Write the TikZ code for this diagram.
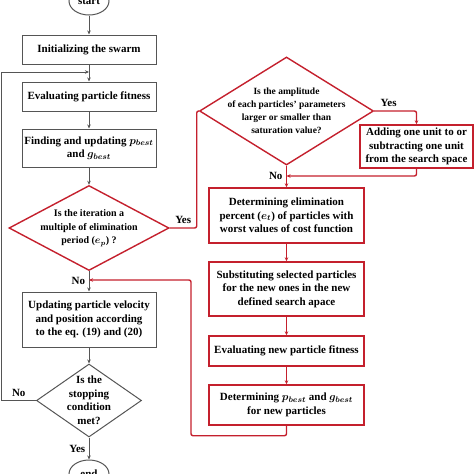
\documentclass[tikz,border=0pt]{standalone}
\usepackage{fontspec}
\setmainfont{Liberation Serif}
\usetikzlibrary{shapes.geometric,arrows.meta}
\definecolor{flowred}{RGB}{196,32,45}
\definecolor{flowgray}{RGB}{85,85,85}

\begin{document}
\begin{tikzpicture}[x=1pt,y=-1pt,
    every node/.style={font=\fontsize{11}{13.5}\selectfont\bfseries\boldmath},
    box/.style={draw=flowgray, line width=1pt, rectangle, align=center, minimum width=134pt, inner sep=2pt},
    redbox/.style={draw=flowred, line width=1.4pt, rectangle, align=center, minimum width=155pt, inner sep=2pt},
    term/.style={draw=flowgray, line width=1pt, ellipse, minimum width=40pt, minimum height=28pt, inner sep=0pt},
    dec/.style={diamond, draw=flowgray, line width=1pt, inner sep=0pt},
    reddec/.style={dec, draw=flowred, line width=1.4pt},
    dectext/.style={align=center},
    flow/.style={-{Stealth[length=4pt,width=3.5pt]}, draw=flowgray, line width=1pt},
    redline/.style={draw=flowred, line width=1.4pt, rounded corners=2pt},
    redflow/.style={redline, -{Stealth[length=4pt,width=3.5pt]}}]

    \useasboundingbox (0,0) rectangle (474,474);

    % 左边主流程
    \node[term] (start) at (89,1) {start};
    \node[box, minimum height=29pt] (init) at (89,49.5) {Initializing the swarm};
    \coordinate (merge) at (89,72);
    \node[box, minimum height=29pt] (eval) at (89,96.5) {Evaluating particle fitness};
    \node[box, minimum height=38pt] (find) at (89,148) {Finding and updating $p_{best}$\\and $g_{best}$};
    \node[reddec, minimum width=160pt, minimum height=85pt,
        label={[dectext, font=\fontsize{10}{13.5}\selectfont\bfseries\boldmath]center:Is the iteration a\\multiple of elimination\\period ($e_p$) ?}] (iter) at (89,228) {};
    \coordinate (nojoin) at (89,280);
    \node[box, minimum height=55pt] (upd) at (89,319.5) {Updating particle velocity\\and position according\\to the eq. (19) and (20)};
    \node[dec, minimum width=105pt, minimum height=73pt,
        label={[dectext]center:Is the\\stopping\\condition\\met?}] (stop) at (89,400.5) {};
    \node[term] (end) at (89,474) {end};

    % 右边淘汰流程
    \node[reddec, minimum width=174pt, minimum height=108pt,
        label={[dectext, font=\fontsize{9.5}{13}\selectfont\bfseries]center:Is the amplitude\\of each particles' parameters\\larger or smaller than\\saturation value?}] (ampl) at (286.5,111) {};
    \node[redbox, minimum width=113pt, minimum height=43pt] (add) at (416.5,146.5) {Adding one unit to or\\subtracting one unit\\from the search space};
    \coordinate (addjoin) at (286.5,176);
    \node[redbox, minimum height=55pt] (elim) at (286.5,215.5) {Determining elimination\\percent ($e_t$) of particles with\\worst values of cost function};
    \node[redbox, minimum height=54pt] (subs) at (286.5,289) {Substituting selected particles\\for the new ones in the new\\defined search apace};
    \node[redbox, minimum height=30pt] (evnew) at (286.5,351) {Evaluating new particle fitness};
    \node[redbox, minimum height=40pt] (detp) at (286.5,405) {Determining $p_{best}$ and $g_{best}$\\for new particles};

    % 左边连线
    \draw[flow] (start) -- (init);
    \draw[flow] (init) -- (eval);
    \draw[flow] (eval) -- (find);
    \draw[flow] (find) -- (iter.north);
    \draw[flow] (iter.south) -- node[left] {No} (upd.north);
    \draw[flow] (upd) -- (stop.north);
    \draw[flow] (stop.south) -- node[left] {Yes} (end.north);
    \draw[flow] (stop.west) -- node[above] {No} ++(-34.5,0) |- (merge);

    % 右边连线
    \draw[redline] (iter.east) -- node[above] {Yes} ++(27,0) |- (ampl.west);
    \draw[redflow] (ampl.east) -| node[pos=0.17, above] {Yes} (add.north);
    \draw[redflow] (add.south) |- (addjoin);
    \draw[redflow] (ampl.south) -- node[pos=0.48, left] {No} (elim.north);
    \draw[redflow] (elim) -- (subs);
    \draw[redflow] (subs) -- (evnew);
    \draw[redflow] (evnew) -- (detp);
    \draw[redflow] (detp.south) -- ++(0,10) -- ++(-95.5,0) |- (nojoin);

\end{tikzpicture}
\end{document}
